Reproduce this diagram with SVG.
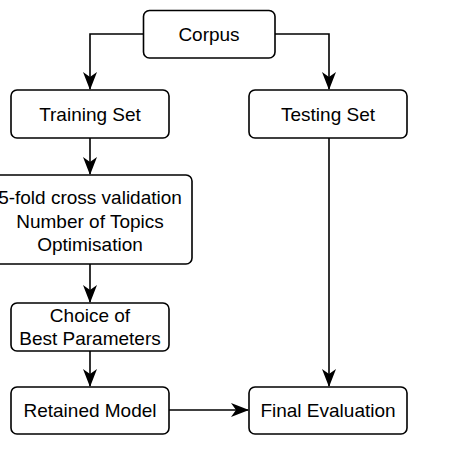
<svg xmlns="http://www.w3.org/2000/svg" width="474" height="474" viewBox="0 0 474 474">
<style>
.box{fill:#fff;stroke:#000;stroke-width:1.6}
.lbl{font-family:"Liberation Sans",Arial,sans-serif;font-size:19px;fill:#000;text-anchor:middle}
.edge{fill:none;stroke:#000;stroke-width:1.6}
</style>
<defs>
<marker id="arr" viewBox="0 0 18 14" refX="17" refY="7" markerWidth="18" markerHeight="14" orient="auto" markerUnits="userSpaceOnUse">
<path d="M0,0 L18,7 L0,14 L5,7 Z" fill="#000"/>
</marker>
</defs>
<rect width="474" height="474" fill="#fff"/>
<g id="connectors">
<path class="edge" d="M143.5,34 H90 V89" marker-end="url(#arr)"/>
<path class="edge" d="M275,34 H329 V89" marker-end="url(#arr)"/>
<path class="edge" d="M90,138 V174" marker-end="url(#arr)"/>
<path class="edge" d="M90,264 V302" marker-end="url(#arr)"/>
<path class="edge" d="M90,351 V386" marker-end="url(#arr)"/>
<path class="edge" d="M329,138 V386" marker-end="url(#arr)"/>
<path class="edge" d="M169,410 H248" marker-end="url(#arr)"/>
</g>
<g id="corpus">
<rect class="box" x="143.5" y="10.5" width="131.5" height="47.5" rx="6"/>
<text class="lbl" x="209" y="41">Corpus</text>
</g>
<g id="training">
<rect class="box" x="11" y="90" width="158" height="48" rx="6"/>
<text class="lbl" x="90" y="121">Training Set</text>
</g>
<g id="testing">
<rect class="box" x="249" y="90" width="158" height="48" rx="6"/>
<text class="lbl" x="328" y="121">Testing Set</text>
</g>
<g id="crossval">
<rect class="box" x="-12" y="175" width="204" height="89" rx="6"/>
<text class="lbl" x="90" y="204">5-fold cross validation</text>
<text class="lbl" x="90" y="228">Number of Topics</text>
<text class="lbl" x="90" y="251">Optimisation</text>
</g>
<g id="choice">
<rect class="box" x="11" y="303" width="158" height="48" rx="6"/>
<text class="lbl" x="90" y="322">Choice of</text>
<text class="lbl" x="90" y="345">Best Parameters</text>
</g>
<g id="retained">
<rect class="box" x="11" y="387" width="158" height="47" rx="6"/>
<text class="lbl" x="90" y="417">Retained Model</text>
</g>
<g id="final">
<rect class="box" x="249" y="387" width="158" height="47" rx="6"/>
<text class="lbl" x="328" y="417">Final Evaluation</text>
</g>
</svg>
